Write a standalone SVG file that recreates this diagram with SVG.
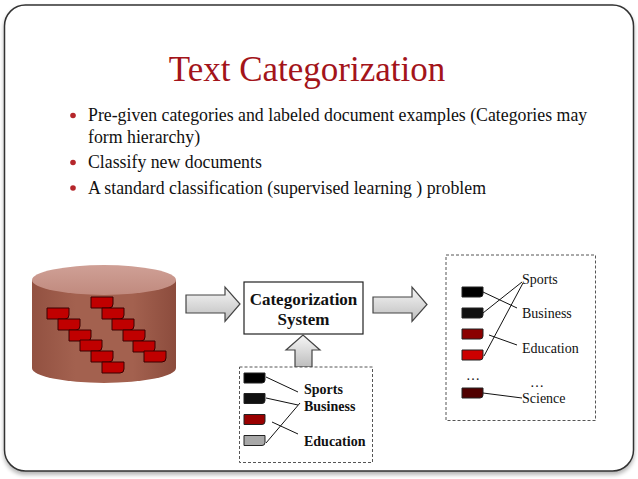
<svg xmlns="http://www.w3.org/2000/svg" width="638" height="479" viewBox="0 0 638 479">
<defs>
<style>
text{font-family:'Liberation Serif','Times New Roman',serif}
.title{font-size:35px;fill:#A3141A}
.bullet-text{font-size:17.8px;fill:#111}
.bdot{fill:#B5262B}
.box{fill:#fff;stroke:#222;stroke-width:1.2}
.dash{fill:#fff;stroke:#555;stroke-width:1;stroke-dasharray:3,2}
.blk{fill:url(#arrowGrad);stroke:#444;stroke-width:1.2}
.lbl-b{font-size:14px;font-weight:bold;fill:#111}
.lbl{font-size:14px;fill:#111}
.conn line{stroke:#111;stroke-width:1}
.doc{stroke:#222;stroke-width:1}
</style>
<linearGradient id="arrowGrad" x1="0" y1="0" x2="0" y2="1">
<stop offset="0" stop-color="#F7F7F7"/>
<stop offset="1" stop-color="#BDBDBD"/>
</linearGradient>
<linearGradient id="cylBody" x1="0" y1="0" x2="1" y2="0">
<stop offset="0" stop-color="#925141"/>
<stop offset="0.3" stop-color="#A3614F"/>
<stop offset="0.7" stop-color="#A3614F"/>
<stop offset="1" stop-color="#8C4C3D"/>
</linearGradient>
<linearGradient id="cylTop" x1="0" y1="0" x2="0" y2="1">
<stop offset="0" stop-color="#CFA096"/>
<stop offset="1" stop-color="#C08A7E"/>
</linearGradient>
<path id="brick" d="M0,0 H22 V7 Q22,11 18,11 H0 Z" fill="#C00000" stroke="#3A0000" stroke-width="1"/>
<path id="doc" d="M0,0 H21 V7 Q21,10 18,10 H0 Z"/>
<filter id="shadow" x="-5%" y="-5%" width="110%" height="115%">
<feGaussianBlur in="SourceAlpha" stdDeviation="2"/>
<feOffset dx="0" dy="3"/>
<feComponentTransfer><feFuncA type="linear" slope="0.3"/></feComponentTransfer>
<feMerge><feMergeNode/><feMergeNode in="SourceGraphic"/></feMerge>
</filter>
</defs>

<rect width="638" height="479" fill="#fff"/>
<g id="frame">
<rect x="4.5" y="5" width="629" height="466" rx="21" ry="21" fill="#fff" stroke="#333" stroke-width="1.5" filter="url(#shadow)"/>
</g>

<g id="title">
<text class="title" x="307" y="81" text-anchor="middle">Text Categorization</text>
</g>

<g id="bullets" class="bullet-text">
<circle class="bdot" cx="73" cy="115.5" r="2.8"/>
<text x="88" y="121">Pre-given categories and labeled document examples (Categories may</text>
<text x="88" y="143">form hierarchy)</text>
<circle class="bdot" cx="73" cy="162.5" r="2.8"/>
<text x="88" y="168">Classify new documents</text>
<circle class="bdot" cx="73" cy="188" r="2.8"/>
<text x="88" y="193.5">A standard classification (supervised learning ) problem</text>
</g>

<g id="database">
<path d="M32,280 V368 A72,15 0 0 0 176,368 V280 Z" fill="url(#cylBody)"/>
<ellipse cx="104" cy="280" rx="72" ry="15" fill="url(#cylTop)"/>
<use href="#brick" x="47" y="308"/>
<use href="#brick" x="58" y="319"/>
<use href="#brick" x="69" y="330"/>
<use href="#brick" x="80" y="340"/>
<use href="#brick" x="91" y="351"/>
<use href="#brick" x="102" y="362"/>
<use href="#brick" x="91" y="297"/>
<use href="#brick" x="102" y="308"/>
<use href="#brick" x="112" y="319"/>
<use href="#brick" x="123" y="330"/>
<use href="#brick" x="133" y="341"/>
<use href="#brick" x="144" y="351"/>
</g>

<g id="arrow-in">
<path class="blk" d="M186,295 H225 V287 L240,304 L225,321.5 V313 H186 Z"/>
</g>

<g id="categorization-system">
<rect class="box" x="244" y="282" width="119" height="52"/>
<text x="303.5" y="305" text-anchor="middle" font-size="17" font-weight="bold" fill="#111">Categorization</text>
<text x="303.5" y="325" text-anchor="middle" font-size="17" font-weight="bold" fill="#111">System</text>
</g>

<g id="arrow-out">
<path class="blk" d="M373,297 H412 V287 L427,304.5 L412,321.5 V313 H373 Z"/>
</g>

<g id="arrow-up">
<path class="blk" d="M295,367 V350 H286 L303,335 L320,350 H312 V367 Z"/>
</g>

<g id="training-examples">
<rect class="dash" x="239.5" y="367" width="133" height="95.5"/>
<use href="#doc" x="244" y="373" fill="#000" class="doc"/>
<use href="#doc" x="244" y="393.5" fill="#111" class="doc"/>
<use href="#doc" x="244" y="414.5" fill="#990000" class="doc"/>
<use href="#doc" x="244" y="435.5" fill="#A8A8A8" class="doc"/>
<text class="lbl-b" x="304" y="394">Sports</text>
<text class="lbl-b" x="304" y="410.5">Business</text>
<text class="lbl-b" x="304" y="445.5">Education</text>
</g>

<g id="classified-output">
<rect class="dash" x="446" y="255" width="149.5" height="165.5"/>
<use href="#doc" x="462" y="287" fill="#000" class="doc"/>
<use href="#doc" x="462" y="308" fill="#111" class="doc"/>
<use href="#doc" x="462" y="329" fill="#8B0000" class="doc"/>
<use href="#doc" x="462" y="350" fill="#CC0000" class="doc"/>
<use href="#doc" x="462" y="388" fill="#500000" class="doc"/>
<text class="lbl" x="466" y="380">…</text>
<text class="lbl" x="530" y="387">…</text>
<text class="lbl" x="522" y="284">Sports</text>
<text class="lbl" x="522" y="317.5">Business</text>
<text class="lbl" x="522" y="352.5">Education</text>
<text class="lbl" x="522" y="402.5">Science</text>
</g>

<g id="connectors" class="conn">
<line x1="266" y1="377" x2="298" y2="392"/>
<line x1="266" y1="398" x2="298" y2="405"/>
<line x1="266" y1="443" x2="300" y2="403"/>
<line x1="272" y1="422" x2="298" y2="434"/>
<line x1="483" y1="292" x2="517" y2="308"/>
<line x1="483" y1="313" x2="522" y2="282"/>
<line x1="484" y1="356" x2="523" y2="283"/>
<line x1="489" y1="335" x2="517" y2="345"/>
<line x1="483" y1="393" x2="522" y2="398"/>
</g>
</svg>
